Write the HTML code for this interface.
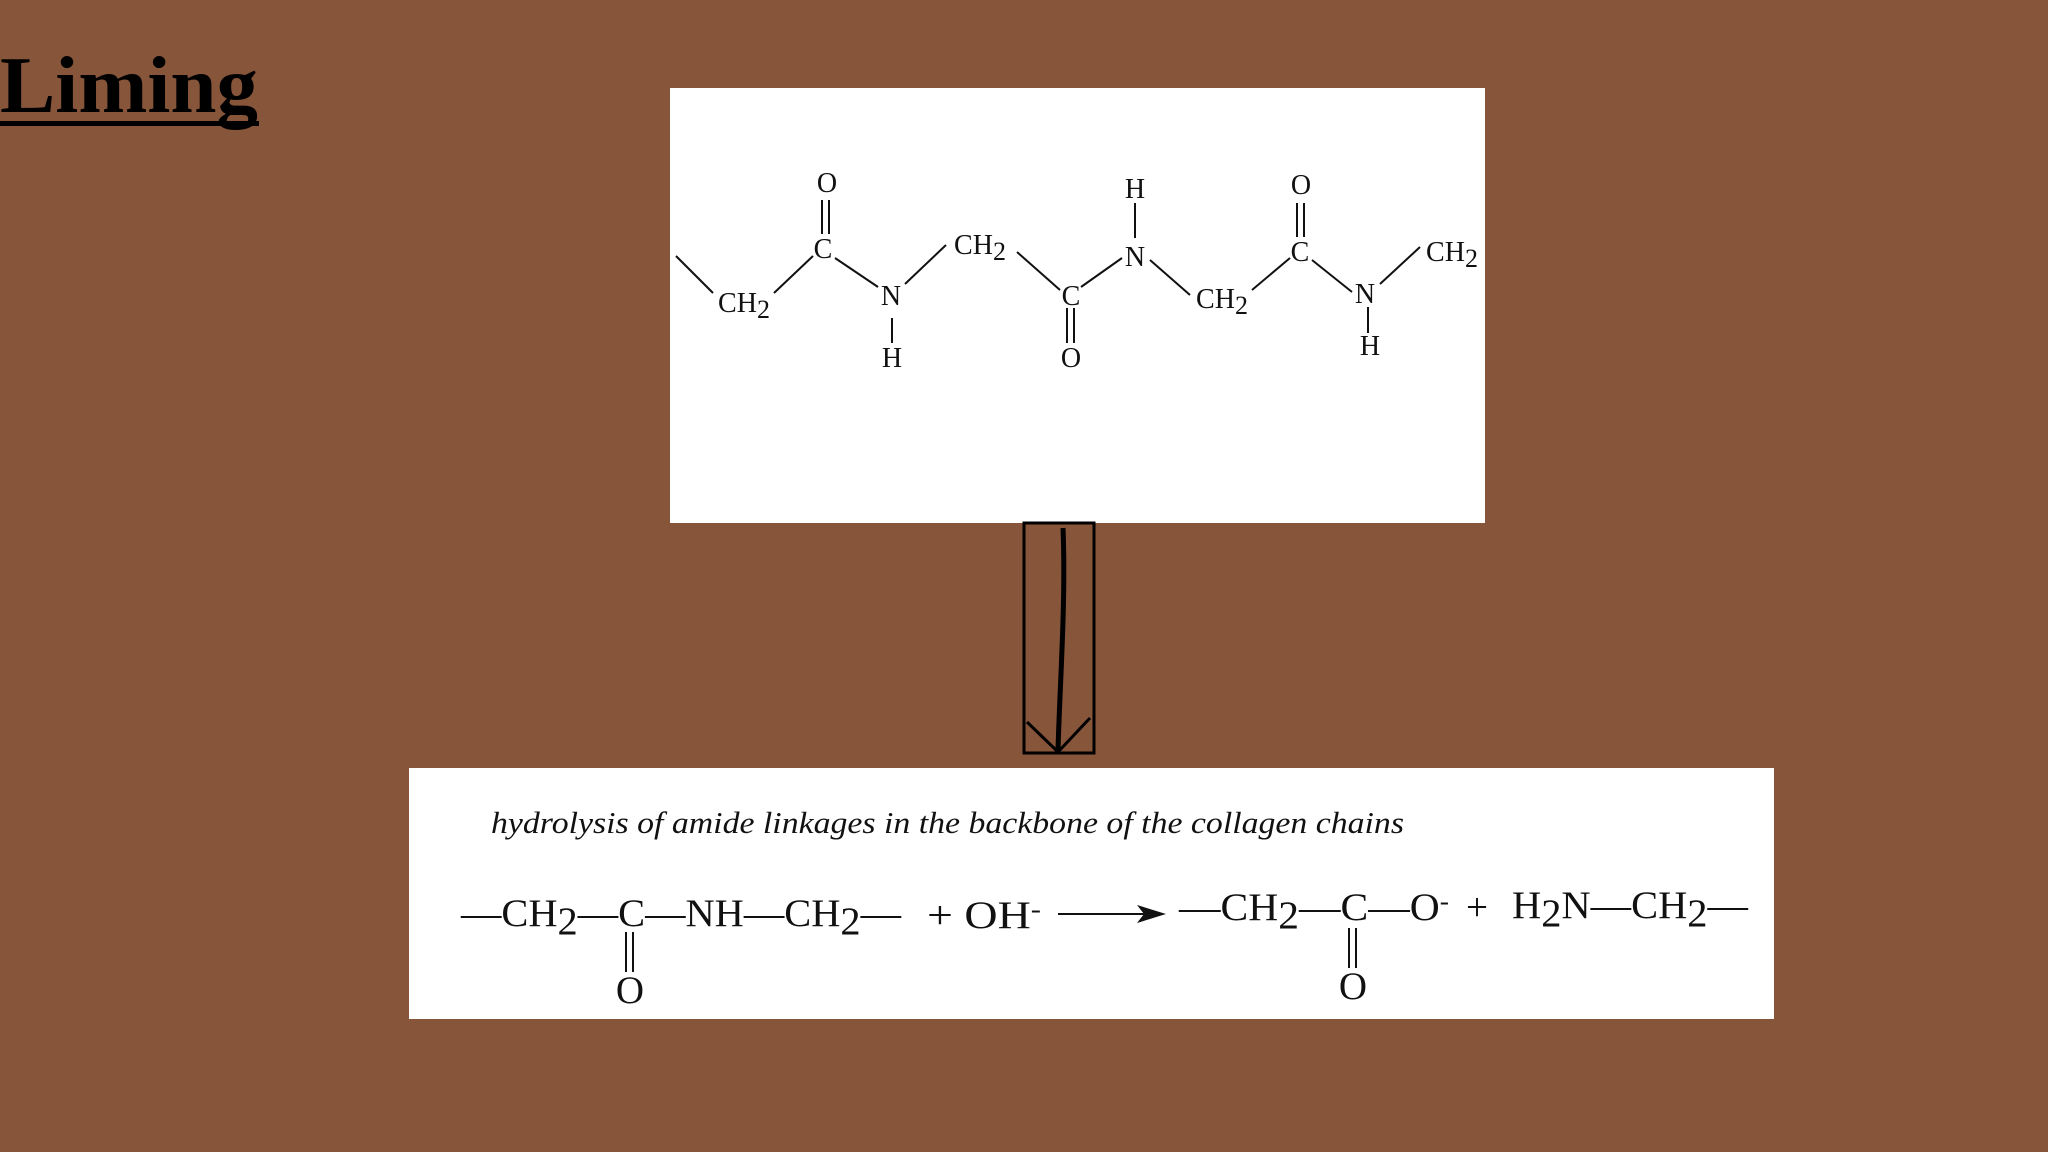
<!DOCTYPE html>
<html><head><meta charset="utf-8"><style>
html,body{margin:0;padding:0;background:#87553A;}
svg{display:block;}
</style></head><body>
<svg width="2048" height="1152" viewBox="0 0 2048 1152" xmlns="http://www.w3.org/2000/svg">
<rect width="2048" height="1152" fill="#87553A"/>
<text x="0" y="112" font-family="Liberation Serif, serif" font-weight="bold" font-size="80" fill="#000" textLength="258" lengthAdjust="spacingAndGlyphs">Liming</text>
<rect x="0" y="121" width="259" height="5" fill="#000"/>

<!-- top box -->
<rect x="670" y="88" width="815" height="435" fill="#fff"/>
<g font-family="Liberation Serif, serif" font-size="28" fill="#111" text-anchor="middle">
<text x="744" y="312">CH<tspan font-size="26" dy="6">2</tspan></text>
<text x="827" y="192">O</text>
<text x="823" y="258">C</text>
<text x="891" y="305">N</text>
<text x="892" y="367">H</text>
<text x="980" y="254">CH<tspan font-size="26" dy="6">2</tspan></text>
<text x="1071" y="305">C</text>
<text x="1071" y="367">O</text>
<text x="1135" y="198">H</text>
<text x="1135" y="266">N</text>
<text x="1222" y="308">CH<tspan font-size="26" dy="6">2</tspan></text>
<text x="1301" y="194">O</text>
<text x="1300" y="261">C</text>
<text x="1365" y="303">N</text>
<text x="1370" y="355">H</text>
<text x="1452" y="261">CH<tspan font-size="26" dy="6">2</tspan></text>
</g>
<g stroke="#111" stroke-width="2" fill="none">
<line x1="676" y1="256" x2="713" y2="293"/>
<line x1="774" y1="293" x2="813" y2="256"/>
<line x1="822" y1="200" x2="822" y2="234"/><line x1="829" y1="200" x2="829" y2="234"/>
<line x1="835" y1="258" x2="878" y2="287"/>
<line x1="905" y1="284" x2="946" y2="245"/>
<line x1="1017" y1="252" x2="1060" y2="290"/>
<line x1="1067" y1="308" x2="1067" y2="343"/><line x1="1074" y1="308" x2="1074" y2="343"/>
<line x1="1081" y1="287" x2="1122" y2="258"/>
<line x1="1135" y1="203" x2="1135" y2="238"/>
<line x1="1150" y1="260" x2="1190" y2="295"/>
<line x1="1252" y1="290" x2="1290" y2="258"/>
<line x1="1297" y1="203" x2="1297" y2="237"/><line x1="1304" y1="203" x2="1304" y2="237"/>
<line x1="1312" y1="260" x2="1352" y2="292"/>
<line x1="1368" y1="307" x2="1368" y2="333"/>
<line x1="1380" y1="284" x2="1420" y2="247"/>
<line x1="892" y1="318" x2="892" y2="343"/>
</g>

<!-- arrow box -->
<rect x="1024" y="523" width="70" height="230" fill="none" stroke="#000" stroke-width="3"/>
<path d="M1063 528 C1066 600 1060 680 1058 750" stroke="#000" stroke-width="5" fill="none"/>
<path d="M1027 722 L1058 752 L1090 718" stroke="#000" stroke-width="3" fill="none"/>

<!-- bottom box -->
<rect x="409" y="768" width="1365" height="251" fill="#fff"/>
<text x="491" y="833" font-family="Liberation Serif, serif" font-style="italic" font-size="31" fill="#111" textLength="913" lengthAdjust="spacingAndGlyphs">hydrolysis of amide linkages in the backbone of the collagen chains</text>
<g font-family="Liberation Serif, serif" font-size="39" fill="#111">
<text x="461" y="926" textLength="440" lengthAdjust="spacingAndGlyphs">—CH<tspan dy="8">2</tspan><tspan dy="-8">—C—NH—CH</tspan><tspan dy="8">2</tspan><tspan dy="-8">—</tspan></text>
<text x="927" y="928" textLength="114" lengthAdjust="spacingAndGlyphs">+ OH<tspan font-size="26" dy="-10">-</tspan></text>
<text x="1179" y="920" textLength="270" lengthAdjust="spacingAndGlyphs">—CH<tspan dy="8">2</tspan><tspan dy="-8">—C—O</tspan><tspan font-size="26" dy="-10">-</tspan></text>
<text x="1466" y="920">+</text>
<text x="1512" y="918" textLength="236" lengthAdjust="spacingAndGlyphs">H<tspan dy="8">2</tspan><tspan dy="-8">N—CH</tspan><tspan dy="8">2</tspan><tspan dy="-8">—</tspan></text>
<text x="630" y="1003" text-anchor="middle">O</text>
<text x="1353" y="999" text-anchor="middle">O</text>
</g>
<g stroke="#111" stroke-width="2">
<line x1="626" y1="932" x2="626" y2="972"/><line x1="633" y1="932" x2="633" y2="972"/>
<line x1="1349" y1="928" x2="1349" y2="968"/><line x1="1356" y1="928" x2="1356" y2="968"/>
<line x1="1058" y1="914" x2="1145" y2="914"/>
</g>
<path d="M1137 905 L1166 914 L1137 923 L1144 914 Z" fill="#111"/>
</svg>
</body></html>
